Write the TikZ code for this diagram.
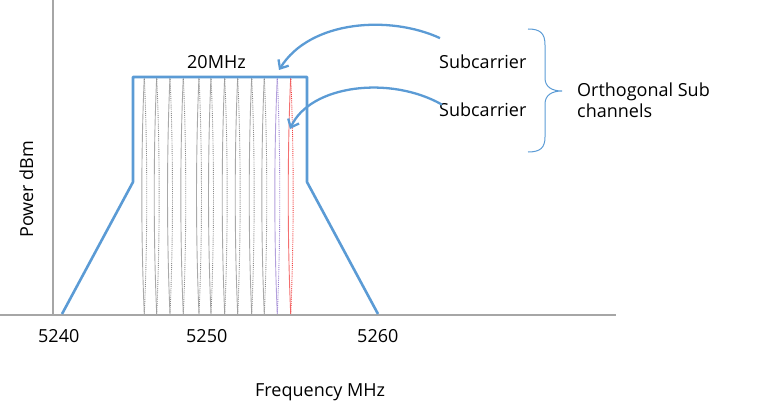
\documentclass[tikz,border=0pt]{standalone}
\usepackage{fontspec}
\setmainfont{Open Sans}
\usetikzlibrary{arrows.meta}
\definecolor{oblue}{HTML}{5B9BD5}
\definecolor{axgray}{HTML}{A6A6A6}
\definecolor{lensgray}{HTML}{8C8C8C}
\definecolor{lenspurple}{HTML}{9A80D0}
\definecolor{lensred}{HTML}{F04040}
\tikzset{
  lbl/.style={inner sep=0pt, font=\fontsize{18}{21}\selectfont, text=black},
  axisline/.style={draw=axgray, line width=1.5pt},
  spectrum/.style={draw=oblue, line width=2.6pt, line join=round},
  callout/.style={draw=oblue, line width=2.3pt, -{Straight Barb[length=7pt,width=12pt,line width=2.3pt]}},
  bracestyle/.style={draw=oblue, line width=1pt},
  lens/.style={line width=0.9pt}
}
\newcommand{\lensat}[2]{%
  \draw[lens,#2!75] (#1,77) .. controls ({#1-3.3},150) and ({#1-3.3},240) .. (#1,314);
  \draw[lens,#2,densely dotted] (#1,77) .. controls ({#1+3.3},150) and ({#1+3.3},240) .. (#1,314);
}
\begin{document}
\begin{tikzpicture}[x=1pt,y=-1pt]
\useasboundingbox (0,0) rectangle (768,412);
% axes
\coordinate (ytop) at (53,0);
\coordinate (ybot) at (53,315);
\coordinate (xl) at (0,315);
\coordinate (xr) at (616,315);
\draw[axisline] (ytop) -- (ybot);
\draw[axisline] (xl) -- (xr);
% subcarrier lenses
\foreach \x in {144.3,156.7,170,183.3,199,211,224.7,237.7,251.7,264.3}{\lensat{\x}{lensgray}}
\lensat{277.3}{lenspurple}
\lensat{290.7}{lensred}
% spectrum mask
\coordinate (m1) at (62,314);
\coordinate (m2) at (133,182);
\coordinate (m3) at (133,77);
\coordinate (m4) at (307,77);
\coordinate (m5) at (307,182);
\coordinate (m6) at (378,314);
\draw[spectrum] (m1) -- (m2) -- (m3) -- (m4) -- (m5) -- (m6);
% labels
\node[lbl, anchor=base west] (bw) at (187,68) {20MHz};
\node[lbl, anchor=base west] (sc1) at (439,68) {Subcarrier};
\node[lbl, anchor=base west] (sc2) at (439,116.5) {Subcarrier};
\node[lbl, anchor=base west] (orth) at (577,96) {Orthogonal Sub};
\node[lbl, anchor=base west] (chan) at (577,117) {channels};
\node[lbl, anchor=base west] (f40) at (38,342) {5240};
\node[lbl, anchor=base west] (f50) at (186,342) {5250};
\node[lbl, anchor=base west] (f60) at (357,342) {5260};
\node[lbl, anchor=base west] (freq) at (255,396) {Frequency MHz};
\node[lbl, anchor=base west, rotate=90] (pow) at (33,238) {Power dBm};
% callout arrows
\coordinate (t1) at (279,70);
\coordinate (t2) at (290,129);
\draw[callout] ([shift={(1pt,16pt)}]sc1.north west) .. controls (390,15) and (310,20) .. (t1);
\draw[callout] ([shift={(3pt,-2pt)}]sc2.north west) .. controls (390,75) and (310,85) .. (t2);
% brace
\coordinate (b1) at (528,29);
\coordinate (btip) at (562,91);
\coordinate (b2) at (528,152);
\draw[bracestyle] (b1) .. controls (540,29) and (545,33) .. (545,45) -- (545,78)
  .. controls (545,87) and (552,91) .. (btip)
  .. controls (552,91) and (545,95) .. (545,104) -- (545,137)
  .. controls (545,148) and (540,152) .. (b2);
\end{tikzpicture}
\end{document}
